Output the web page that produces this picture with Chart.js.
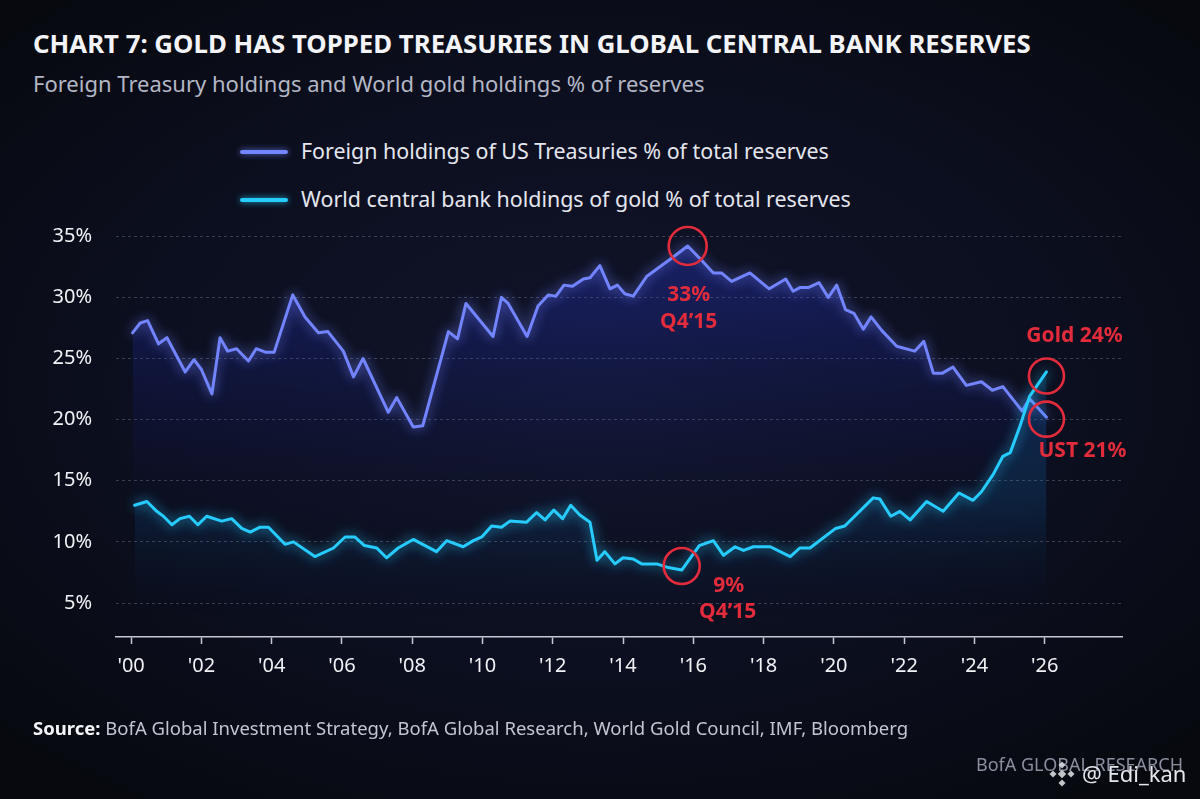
<!DOCTYPE html>
<html>
<head>
<meta charset="utf-8">
<title>Chart 7: Gold has topped Treasuries in global central bank reserves</title>
<script src="https://cdn.jsdelivr.net/npm/chart.js@4.4.1/dist/chart.umd.min.js"></script>
<style>
    html, body { margin: 0; padding: 0; }
    body {
        width: 1200px;
        height: 799px;
        overflow: hidden;
        position: relative;
        font-family: 'Noto Sans', 'Open Sans', sans-serif;
        background: radial-gradient(ellipse 70% 65% at 50% 48%, #11152b 0%, #0c0f1f 55%, #07090f 100%);
    }
    #goldChart { position: absolute; left: 0; top: 0; }
    .txt { position: absolute; white-space: nowrap; line-height: 1; }
    .title { left: 33px; top: 31px; font-size: 25.8px; font-weight: 700; color: #f3f4f8; }
    .subtitle { left: 33px; top: 72px; font-size: 22px; color: #b3b7c5; }
    .legend-row { position: absolute; left: 240px; height: 22px; }
    .legend-line { position: absolute; left: 0; top: 10px; width: 48px; height: 4px; border-radius: 2px; }
    .legend-text { left: 61px; top: 0; font-size: 21.4px; color: #e4e6ee; }
    .source { left: 33px; top: 719px; font-size: 18.5px; color: #c3c6d2; }
    .source b { color: #f3f4f8; }
    .brand { left: 976px; top: 755px; font-size: 18px; color: #8a8e9d; }
    .handle { left: 1082px; top: 762px; font-size: 22px; color: #e6e7ec; }
    .logo { position: absolute; left: 1048px; top: 760px; }
</style>
</head>
<body>
<div class="txt title">CHART 7: GOLD HAS TOPPED TREASURIES IN GLOBAL CENTRAL BANK RESERVES</div>
<div class="txt subtitle">Foreign Treasury holdings and World gold holdings % of reserves</div>

<div class="legend-row" style="top:140px">
    <span class="legend-line" style="background:#7284ff;box-shadow:0 0 6px rgba(114,132,255,0.8)"></span>
    <span class="txt legend-text">Foreign holdings of US Treasuries % of total reserves</span>
</div>
<div class="legend-row" style="top:188px">
    <span class="legend-line" style="background:#27ccff;box-shadow:0 0 6px rgba(39,204,255,0.8)"></span>
    <span class="txt legend-text">World central bank holdings of gold % of total reserves</span>
</div>

<canvas id="goldChart" width="1200" height="799"></canvas>

<div class="txt source"><b>Source:</b> BofA Global Investment Strategy, BofA Global Research, World Gold Council, IMF, Bloomberg</div>
<div class="txt brand">BofA GLOBAL RESEARCH</div>
<svg class="logo" width="28" height="28" viewBox="0 0 28 28">
    <g fill="#d9dae0" opacity="0.9">
        <rect x="11" y="11" width="6" height="6" transform="rotate(45 14 14)"/>
        <rect x="11.5" y="2.5" width="5" height="5" transform="rotate(45 14 5)"/>
        <rect x="11.5" y="20.5" width="5" height="5" transform="rotate(45 14 23)"/>
        <rect x="2.5" y="11.5" width="5" height="5" transform="rotate(45 5 14)"/>
        <rect x="20.5" y="11.5" width="5" height="5" transform="rotate(45 23 14)"/>
    </g>
</svg>
<div class="txt handle">@ Edi_kan</div>

<script>
// Foreign holdings of US Treasuries, % of total reserves (decimal year, %)
var tsYears = [
    2000.04, 2000.26, 2000.47, 2000.78, 2001.02, 2001.54, 2001.79, 2002.00, 2002.30, 2002.53,
    2002.75, 2003.00, 2003.34, 2003.56, 2003.84, 2004.07, 2004.60, 2004.95, 2005.33, 2005.60,
    2006.04, 2006.33, 2006.60, 2007.32, 2007.56, 2008.03, 2008.30, 2009.03, 2009.29, 2009.53,
    2010.30, 2010.54, 2010.73, 2011.27, 2011.58, 2011.87, 2012.09, 2012.32, 2012.56, 2012.87,
    2013.06, 2013.34, 2013.63, 2013.84, 2014.05, 2014.29, 2014.67, 2015.38, 2015.84, 2016.28,
    2016.57, 2016.80, 2017.09, 2017.61, 2018.16, 2018.63, 2018.84, 2019.03, 2019.27, 2019.58,
    2019.84, 2020.08, 2020.33, 2020.57, 2020.84, 2021.06, 2021.36, 2021.79, 2022.30, 2022.56,
    2022.83, 2023.09, 2023.39, 2023.77, 2024.20, 2024.51, 2024.81, 2025.36, 2025.57, 2026.05
];
var tsValues = [
    27.1, 27.9, 28.1, 26.2, 26.7, 23.9, 24.9, 24.1, 22.1, 26.7,
    25.6, 25.8, 24.8, 25.8, 25.5, 25.5, 30.2, 28.4, 27.1, 27.2,
    25.6, 23.5, 25.0, 20.6, 21.8, 19.4, 19.5, 27.2, 26.6, 29.5,
    26.8, 30.0, 29.5, 26.8, 29.3, 30.2, 30.1, 31.0, 30.9, 31.5,
    31.6, 32.6, 30.7, 31.0, 30.3, 30.1, 31.7, 33.2, 34.2, 32.9,
    32.0, 32.0, 31.3, 32.0, 30.7, 31.5, 30.5, 30.8, 30.8, 31.2,
    30.0, 31.0, 29.0, 28.7, 27.4, 28.4, 27.3, 26.0, 25.6, 26.4,
    23.8, 23.8, 24.3, 22.8, 23.1, 22.4, 22.7, 20.7, 21.7, 20.2
];

// World central bank holdings of gold, % of total reserves (decimal year, %)
var goldYears = [
    2000.10, 2000.45, 2000.73, 2000.92, 2001.16, 2001.39, 2001.66, 2001.90, 2002.15, 2002.58,
    2002.86, 2003.15, 2003.39, 2003.67, 2003.91, 2004.38, 2004.62, 2005.23, 2005.76, 2006.09,
    2006.37, 2006.64, 2006.99, 2007.27, 2007.60, 2008.03, 2008.69, 2008.98, 2009.45, 2009.74,
    2009.98, 2010.26, 2010.54, 2010.78, 2011.25, 2011.54, 2011.78, 2012.03, 2012.28, 2012.51,
    2012.77, 2013.06, 2013.26, 2013.48, 2013.77, 2014.00, 2014.29, 2014.53, 2014.96, 2015.29,
    2015.67, 2016.17, 2016.57, 2016.86, 2017.19, 2017.43, 2017.71, 2018.19, 2018.76, 2019.03,
    2019.32, 2020.05, 2020.31, 2021.12, 2021.31, 2021.62, 2021.88, 2022.17, 2022.64, 2023.11,
    2023.56, 2023.96, 2024.20, 2024.53, 2024.81, 2025.02, 2025.30, 2025.57, 2026.05
];
var goldValues = [
    13.0, 13.3, 12.5, 12.1, 11.4, 11.9, 12.1, 11.4, 12.1, 11.7,
    11.9, 11.1, 10.8, 11.2, 11.2, 9.8, 10.0, 8.8, 9.5, 10.4,
    10.4, 9.7, 9.5, 8.7, 9.5, 10.2, 9.2, 10.1, 9.6, 10.1,
    10.4, 11.3, 11.2, 11.7, 11.6, 12.4, 11.8, 12.6, 11.9, 13.0,
    12.2, 11.6, 8.5, 9.2, 8.2, 8.7, 8.6, 8.2, 8.2, 7.9,
    7.7, 9.7, 10.1, 8.9, 9.6, 9.3, 9.6, 9.6, 8.8, 9.5,
    9.5, 11.1, 11.3, 13.6, 13.5, 12.1, 12.5, 11.8, 13.3, 12.5,
    14.0, 13.4, 14.1, 15.5, 17.0, 17.3, 19.5, 21.9, 23.9
];

var yTickValues = [5, 10, 15, 20, 25, 30, 35];
var xTickYears = [2000, 2002, 2004, 2006, 2008, 2010, 2012, 2014, 2016, 2018, 2020, 2022, 2024, 2026];

(function () {
    'use strict';

    var C = {
        ts: '#7284ff',
        tsGlow: 'rgba(114,132,255,0.85)',
        gold: '#27ccff',
        goldGlow: 'rgba(39,204,255,0.85)',
        red: '#e22b3b',
        tick: '#f1f2f6',
        axis: '#c6c9d4',
        grid: 'rgba(190,196,215,0.26)'
    };
    var FONT = "'Noto Sans', 'Open Sans', sans-serif";

    function toPoints(xs, ys) {
        return xs.map(function (x, i) { return { x: x, y: ys[i] }; });
    }

    function indexOfMax(arr) {
        return arr.indexOf(Math.max.apply(null, arr));
    }

    function indexOfMin(arr) {
        return arr.indexOf(Math.min.apply(null, arr));
    }

    function fillGradient(context, stops) {
        var chart = context.chart;
        var area = chart.chartArea;
        if (!area) return 'transparent';
        var y = chart.scales.y;
        var g = chart.ctx.createLinearGradient(0, y.getPixelForValue(stops[0][0]), 0, y.getPixelForValue(stops[stops.length - 1][0]));
        var span = stops[0][0] - stops[stops.length - 1][0];
        stops.forEach(function (s) {
            g.addColorStop((stops[0][0] - s[0]) / span, s[1]);
        });
        return g;
    }

    // red rings + labels, anchored on data elements
    var callouts = [
        { ds: 1, index: indexOfMax(tsValues), r: 19, dy: 0, lines: [['33%', 1, 49], ['Q4\u201915', 1, 76]] },
        { ds: 0, index: indexOfMin(goldValues), r: 18, dy: -4, lines: [['9%', 47, 16], ['Q4\u201915', 46, 42]] },
        { ds: 0, index: goldValues.length - 1, r: 17.5, dy: 4, lines: [['Gold 24%', 28, -36]] },
        { ds: 1, index: tsValues.length - 1, r: 17.5, dy: 2, lines: [['UST 21%', 36, 34]] }
    ];

    var glowPlugin = {
        id: 'lineGlow',
        beforeDatasetDraw: function (chart, args) {
            var ds = chart.data.datasets[args.index];
            chart.ctx.save();
            chart.ctx.shadowColor = ds.glowColor;
            chart.ctx.shadowBlur = 12;
        },
        afterDatasetDraw: function (chart) {
            chart.ctx.restore();
        }
    };

    var calloutPlugin = {
        id: 'callouts',
        afterDatasetsDraw: function (chart) {
            var ctx = chart.ctx;
            ctx.save();
            ctx.strokeStyle = C.red;
            ctx.fillStyle = C.red;
            ctx.lineWidth = 2.6;
            ctx.textAlign = 'center';
            ctx.textBaseline = 'middle';
            ctx.font = '700 21px ' + FONT;
            callouts.forEach(function (c) {
                var pt = chart.getDatasetMeta(c.ds).data[c.index];
                if (!pt) return;
                var cx = pt.x, cy = pt.y + c.dy;
                ctx.beginPath();
                ctx.arc(cx, cy, c.r, 0, Math.PI * 2);
                ctx.stroke();
                c.lines.forEach(function (l) {
                    ctx.fillText(l[0], pt.x + l[1], pt.y + l[2]);
                });
            });
            ctx.restore();
        }
    };

    function init() {
        Chart.defaults.font.family = FONT;
        Chart.defaults.color = C.tick;

        new Chart(document.getElementById('goldChart'), {
            type: 'line',
            data: {
                datasets: [{
                    label: 'World central bank holdings of gold % of total reserves',
                    data: toPoints(goldYears, goldValues),
                    borderColor: C.gold,
                    glowColor: C.goldGlow,
                    borderWidth: 3,
                    pointRadius: 0,
                    tension: 0,
                    borderJoinStyle: 'round',
                    borderCapStyle: 'round',
                    fill: 'start',
                    backgroundColor: function (context) {
                        return fillGradient(context, [
                            [14, 'rgba(20,165,255,0.13)'],
                            [9, 'rgba(20,130,230,0.05)'],
                            [4, 'rgba(20,100,200,0)']
                        ]);
                    }
                }, {
                    label: 'Foreign holdings of US Treasuries % of total reserves',
                    data: toPoints(tsYears, tsValues),
                    borderColor: C.ts,
                    glowColor: C.tsGlow,
                    borderWidth: 3,
                    pointRadius: 0,
                    tension: 0,
                    borderJoinStyle: 'round',
                    borderCapStyle: 'round',
                    fill: 'start',
                    backgroundColor: function (context) {
                        return fillGradient(context, [
                            [34, 'rgba(45,60,215,0.36)'],
                            [24, 'rgba(35,48,190,0.17)'],
                            [15, 'rgba(30,40,160,0.04)'],
                            [9, 'rgba(30,40,160,0)']
                        ]);
                    }
                }]
            },
            options: {
                responsive: false,
                animation: false,
                events: [],
                layout: { padding: { left: 0, top: 224, right: 78, bottom: 0 } },
                plugins: {
                    legend: { display: false },
                    tooltip: { enabled: false }
                },
                scales: {
                    x: {
                        type: 'linear',
                        min: 1999.57,
                        max: 2028.2,
                        afterFit: function (scale) { scale.height = 162; },
                        afterBuildTicks: function (scale) {
                            scale.ticks = xTickYears.map(function (v) { return { value: v }; });
                        },
                        grid: {
                            drawOnChartArea: false,
                            drawTicks: true,
                            tickLength: 7,
                            tickWidth: 1.5,
                            color: C.axis
                        },
                        border: { display: true, color: C.axis, width: 1.5 },
                        ticks: {
                            autoSkip: false,
                            maxRotation: 0,
                            padding: 10,
                            color: C.tick,
                            font: { size: 20 },
                            callback: function (v) {
                                return '\'' + String(v % 100).padStart(2, '0');
                            }
                        }
                    },
                    y: {
                        min: 2.22,
                        max: 36,
                        afterFit: function (scale) { scale.width = 116; },
                        afterBuildTicks: function (scale) {
                            scale.ticks = yTickValues.map(function (v) { return { value: v }; });
                        },
                        grid: {
                            drawTicks: false,
                            color: C.grid,
                            lineWidth: 1
                        },
                        border: { display: false, dash: [3, 3] },
                        ticks: {
                            padding: 24,
                            color: C.tick,
                            font: { size: 20 },
                            callback: function (v) { return v + '%'; }
                        }
                    }
                }
            },
            plugins: [glowPlugin, calloutPlugin]
        });
    }

    if (document.readyState === 'loading') {
        document.addEventListener('DOMContentLoaded', init);
    } else {
        init();
    }
})();
</script>
</body>
</html>
